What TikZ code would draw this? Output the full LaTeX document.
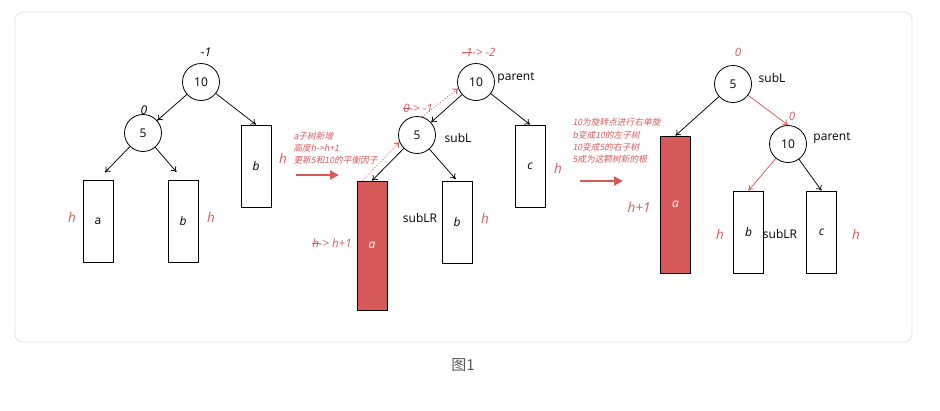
\documentclass[tikz,border=0pt]{standalone}
\usepackage{fontspec}
\setmainfont{Open Sans}
\newfontfamily\cjk{Noto Sans CJK SC}
\newfontfamily\cjkslant{Noto Sans CJK SC}[FakeSlant=0.2]
\usetikzlibrary{arrows.meta}
\definecolor{balred}{RGB}{214,90,90}
\definecolor{framegray}{RGB}{226,226,230}
\definecolor{captiongray}{RGB}{90,90,96}
\newcommand\strk[1]{\setbox0\hbox{#1}\rlap{\rule[0.3em]{\wd0}{0.6pt}}\box0}

\begin{document}
\begin{tikzpicture}[x=1pt,y=-1pt,
		tree-node/.style={circle, draw, line width=0.8pt, minimum size=37pt, inner sep=0pt, font=\fontsize{12}{14}\selectfont},
		subtree/.style={draw, line width=0.8pt, minimum width=30pt, inner sep=0pt, font=\itshape\fontsize{12}{14}\selectfont},
		subtree-grown/.style={subtree, fill=balred, text=white},
		name-label/.style={font=\fontsize{12}{14}\selectfont},
		bf-label/.style={text=balred, font=\itshape\fontsize{11.5}{13}\selectfont},
		height-label/.style={text=balred, font=\itshape\fontsize{13.5}{15}\selectfont},
		note/.style={text=balred, align=left, anchor=west, font=\cjkslant\fontsize{8.7}{12.2}\selectfont},
		link/.style={-{To[length=5pt,width=7pt]}, line width=0.75pt},
		link-red/.style={link, draw=balred},
		trace/.style={-{To[length=5pt,width=7pt]}, draw=balred, dotted, line width=0.9pt},
		step-arrow/.style={-{Triangle[length=9pt,width=9pt]}, draw=balred, line width=2pt},
		]

		\def\hsmall{82pt}
		\useasboundingbox (0,0) rectangle (940,410);
		\draw[framegray, rounded corners=8pt, line width=0.8pt] (15,12) rectangle (912,342);

		% before insertion
		\node[tree-node]                           (p1p) at (201,82) {10};
		\node[tree-node]                           (p1l) at (143,133) {5};
		\node[subtree, minimum height=\hsmall]     (p1c) at (256,166) {b};
		\node[subtree, minimum height=\hsmall]     (p1a) at (98,221) {\upshape a};
		\node[subtree, minimum height=\hsmall]     (p1b) at (183,221) {b};
		\node[text=black, font=\itshape\fontsize{12}{14}\selectfont] (p1pbf) at (206,52) {-1};
		\node[text=black, font=\itshape\fontsize{12}{14}\selectfont] (p1lbf) at (144,110) {0};
		\node[height-label] (p1ah) at (72,217) {h};
		\node[height-label] (p1bh) at (211,217) {h};
		\node[height-label] (p1ch) at (283,158) {h};

		\draw[link] (p1p) -- (p1l);
		\draw[link] (p1p) -- (p1c.north);
		\draw[link, shorten >=10pt] (p1l) -- (p1a.north);
		\draw[link, shorten >=10pt] (p1l) -- (p1b.north);

		\node[note] (note1) at (290,148) {a子树新增\\高度h->h+1\\更新5和10的平衡因子};
		\coordinate (go1s) at (296,175);
		\coordinate (go1e) at (339,175);
		\draw[step-arrow] (go1s) -- (go1e);

		% after insertion
		\node[tree-node]                           (p2p) at (476,82) {10};
		\node[tree-node]                           (p2l) at (417,135) {5};
		\node[subtree, minimum height=\hsmall]     (p2c) at (530,166) {c};
		\node[subtree-grown, minimum height=129pt] (p2a) at (372,245.5) {a};
		\node[subtree, minimum height=\hsmall]     (p2b) at (457,222) {b};
		\node[name-label] (p2pn) at (516,78) {parent};
		\node[name-label] (p2ln) at (458,138) {subL};
		\node[name-label] (p2bn) at (420,218) {subLR};
		\node[bf-label] (p2pbf) at (479,52) {\strk{-1} -> -2};
		\node[bf-label] (p2lbf) at (418,108) {\strk{0} -> -1};
		\node[height-label, font=\itshape\fontsize{11.5}{13}\selectfont] (p2ah) at (332,243) {\strk{h} -> h+1};
		\node[height-label] (p2bh) at (485,218) {h};
		\node[height-label] (p2ch) at (558,168) {h};

		\draw[link] (p2p) -- (p2l);
		\draw[link] (p2p) -- (p2c.north);
		\draw[link] (p2l) -- (p2a.north);
		\draw[link, shorten >=2pt] (p2l) -- (p2b.north);
		\draw[trace] ([xshift=6pt]p2a.north west) -- (p2l.202);
		\draw[trace] (p2l.74) -- (p2p.200);

		\node[note] (note2) at (569,141) {10为旋转点进行右单旋\\b变成10的左子树\\10变成5的右子树\\5成为这颗树新的根};
		\coordinate (go2s) at (580,181);
		\coordinate (go2e) at (623,181);
		\draw[step-arrow] (go2s) -- (go2e);

		% after right rotation
		\node[tree-node]                           (p3l) at (733,84) {5};
		\node[tree-node]                           (p3p) at (788,144) {10};
		\node[subtree-grown, minimum height=137pt] (p3a) at (675.5,204.5) {a};
		\node[subtree, minimum height=\hsmall]     (p3b) at (748.5,232) {b};
		\node[subtree, minimum height=\hsmall]     (p3c) at (821.5,232) {c};
		\node[name-label] (p3ln) at (772,78) {subL};
		\node[name-label] (p3pn) at (832,138) {parent};
		\node[name-label] (p3bn) at (780,234) {subLR};
		\node[bf-label] (p3lbf) at (738,52) {0};
		\node[bf-label] (p3pbf) at (792,116) {0};
		\node[height-label] (p3ah) at (639,207) {h+1};
		\node[height-label] (p3bh) at (720,234) {h};
		\node[height-label] (p3ch) at (856,234) {h};

		\draw[link] (p3l) -- (p3a.north);
		\draw[link-red] (p3l) -- (p3p.north);
		\draw[link-red] (p3p) -- (p3b.north);
		\draw[link] (p3p) -- (p3c.north);

		\node[text=captiongray, font=\cjk\fontsize{15}{17}\selectfont] (caption) at (463,365) {图1};

	\end{tikzpicture}
\end{document}
